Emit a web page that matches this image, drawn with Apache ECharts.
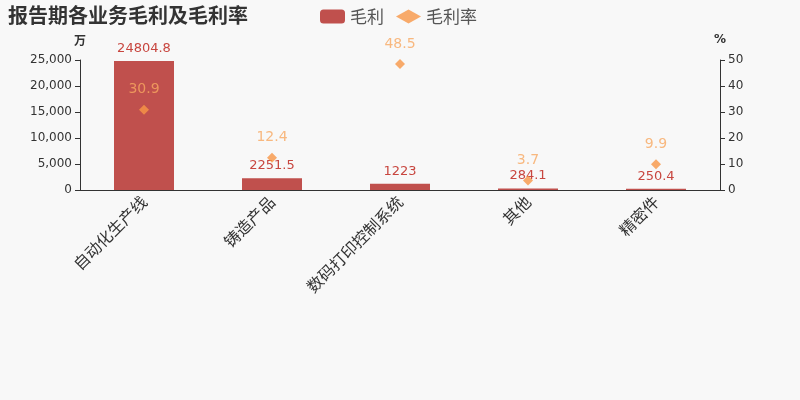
<!DOCTYPE html>
<html>
<head>
<meta charset="utf-8">
<script src="https://cdn.jsdelivr.net/npm/echarts@6/dist/echarts.min.js"></script>
<style>
  html, body { margin: 0; padding: 0; background: #f8f8f8; }
  #main { width: 800px; height: 400px; }
</style>
</head>
<body>
<div id="main"></div>
<script>
// 业务分类
var categories = ["自动化生产线", "铸造产品", "数码打印控制系统", "其他", "精密件"];
// 毛利（万）
var grossProfit = [24804.8, 2251.5, 1223, 284.1, 250.4];
// 毛利率（%）
var grossMargin = [30.9, 12.4, 48.5, 3.7, 9.9];

var font = "'DejaVu Sans', 'Noto Sans CJK SC', sans-serif";
var cjkFont = "'Noto Sans CJK SC', sans-serif";

var myChart = echarts.init(document.getElementById("main"));

var option = {
  backgroundColor: "#f8f8f8",
  textStyle: { fontFamily: font },
  title: {
    text: "报告期各业务毛利及毛利率",
    left: 3,
    top: 0,
    textStyle: { fontSize: 20, fontWeight: "bold", color: "#333", fontFamily: cjkFont }
  },
  legend: {
    left: 315,
    top: 3,
    itemWidth: 25,
    itemHeight: 14,
    itemGap: 12,
    textStyle: { fontSize: 17, color: "#555", fontFamily: cjkFont },
    data: ["毛利", "毛利率"]
  },
  grid: { left: 80, right: 80, top: 60, bottom: 210 },
  xAxis: {
    type: "category",
    data: categories,
    axisLine: { lineStyle: { color: "#333" } },
    axisTick: { lineStyle: { color: "#333" } },
    axisLabel: { rotate: 45, fontSize: 16, color: "#333", interval: 0, margin: 9, fontFamily: cjkFont }
  },
  yAxis: [
    {
      type: "value",
      name: "万",
      min: 0,
      max: 25000,
      interval: 5000,
      nameGap: 14,
      nameTextStyle: { color: "#333", fontSize: 12, fontWeight: "bold", fontFamily: cjkFont },
      axisLine: { show: true, lineStyle: { color: "#333" } },
      axisTick: { show: true },
      splitLine: { show: false },
      axisLabel: {
        color: "#333",
        fontSize: 12,
        formatter: function (v) { return v.toLocaleString("en-US"); }
      }
    },
    {
      type: "value",
      name: "%",
      min: 0,
      max: 50,
      interval: 10,
      nameGap: 14,
      nameTextStyle: { color: "#333", fontSize: 12, fontWeight: "bold" },
      axisLine: { show: true, lineStyle: { color: "#333" } },
      axisTick: { show: true },
      splitLine: { show: false },
      axisLabel: { color: "#333", fontSize: 12 }
    }
  ],
  series: [
    {
      name: "毛利",
      type: "bar",
      barWidth: 60,
      data: grossProfit,
      itemStyle: { color: "#c0504d" },
      label: { show: true, position: "top", color: "#c8463f", fontSize: 13, distance: 6 }
    },
    {
      name: "毛利率",
      type: "scatter",
      yAxisIndex: 1,
      symbol: "diamond",
      symbolSize: 10,
      data: grossMargin,
      itemStyle: { color: "#f79646" },
      label: { show: true, position: "top", color: "#f8a860", fontSize: 14, distance: 8 }
    }
  ]
};

myChart.setOption(option);
</script>
</body>
</html>
